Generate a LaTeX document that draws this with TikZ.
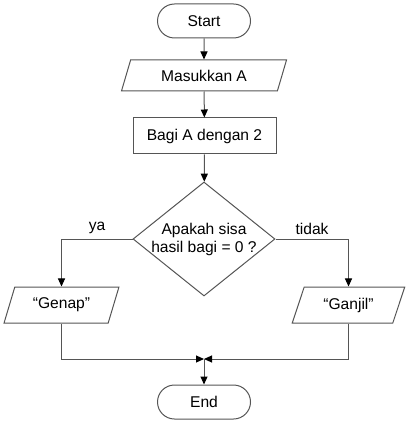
\documentclass[tikz,border=0pt]{standalone}
\usepackage{fontspec}
\setmainfont{Liberation Sans}
\usepackage{tikz}
\usetikzlibrary{shapes.geometric, arrows.meta, positioning}
\definecolor{linegray}{RGB}{85,85,85}

\begin{document}
\begin{tikzpicture}[x=1pt, y=-1pt,
    every node/.style={font=\fontsize{15.6}{18}\selectfont},
    terminal/.style={draw=linegray, line width=1pt, rounded corners=17pt, minimum width=93pt, minimum height=34pt},
    iobox/.style={draw=linegray, line width=1pt, trapezium, trapezium left angle=65, trapezium right angle=115, trapezium stretches=true, inner sep=0pt},
    process/.style={draw=linegray, line width=1pt, minimum width=143pt, minimum height=36pt},
    decision/.style={draw=linegray, line width=1pt, diamond, minimum width=142pt, minimum height=114pt, inner sep=0pt},
    flow/.style={draw=linegray, line width=1pt, -{Triangle[length=8pt, width=7pt, color=black]}},
    link/.style={draw=linegray, line width=1pt}
]
    \useasboundingbox (0,0) rectangle (408,427);

    % Main column
    \node[terminal] (start) at (204,21) {Start};
    \node[iobox, minimum width=166pt, minimum height=31pt] (input) at (204,75.5) {Masukkan A};
    \node[process] (divide) at (204.5,136) {Bagi A dengan 2};
    \node[decision, label={[align=center]center:Apakah sisa\\hasil bagi = 0 ?}] (check) at (204,239) {};

    % Branches
    \node[iobox, minimum width=115pt, minimum height=36pt] (even) at (61.5,305) {``Genap''};
    \node[iobox, minimum width=113pt, minimum height=36pt] (odd) at (348.5,305) {``Ganjil''};

    \coordinate (merge) at (204,359);
    \node[terminal] (end) at (204,402) {End};

    % Connectors
    \draw[flow] (start) -- (input);
    \draw[flow] (input) -- (divide);
    \draw[flow] (divide) -- (check);
    \draw[flow] (check.west) -| (even.north) node[pos=0.25, above=1pt] {ya};
    \draw[flow] (check.east) -| (odd.north) node[pos=0.25, above=1pt] {tidak};
    \draw[flow] (even.south) |- (merge);
    \draw[flow] (odd.south) |- (merge);
    \draw[flow] (merge) -- (end);
\end{tikzpicture}
\end{document}
